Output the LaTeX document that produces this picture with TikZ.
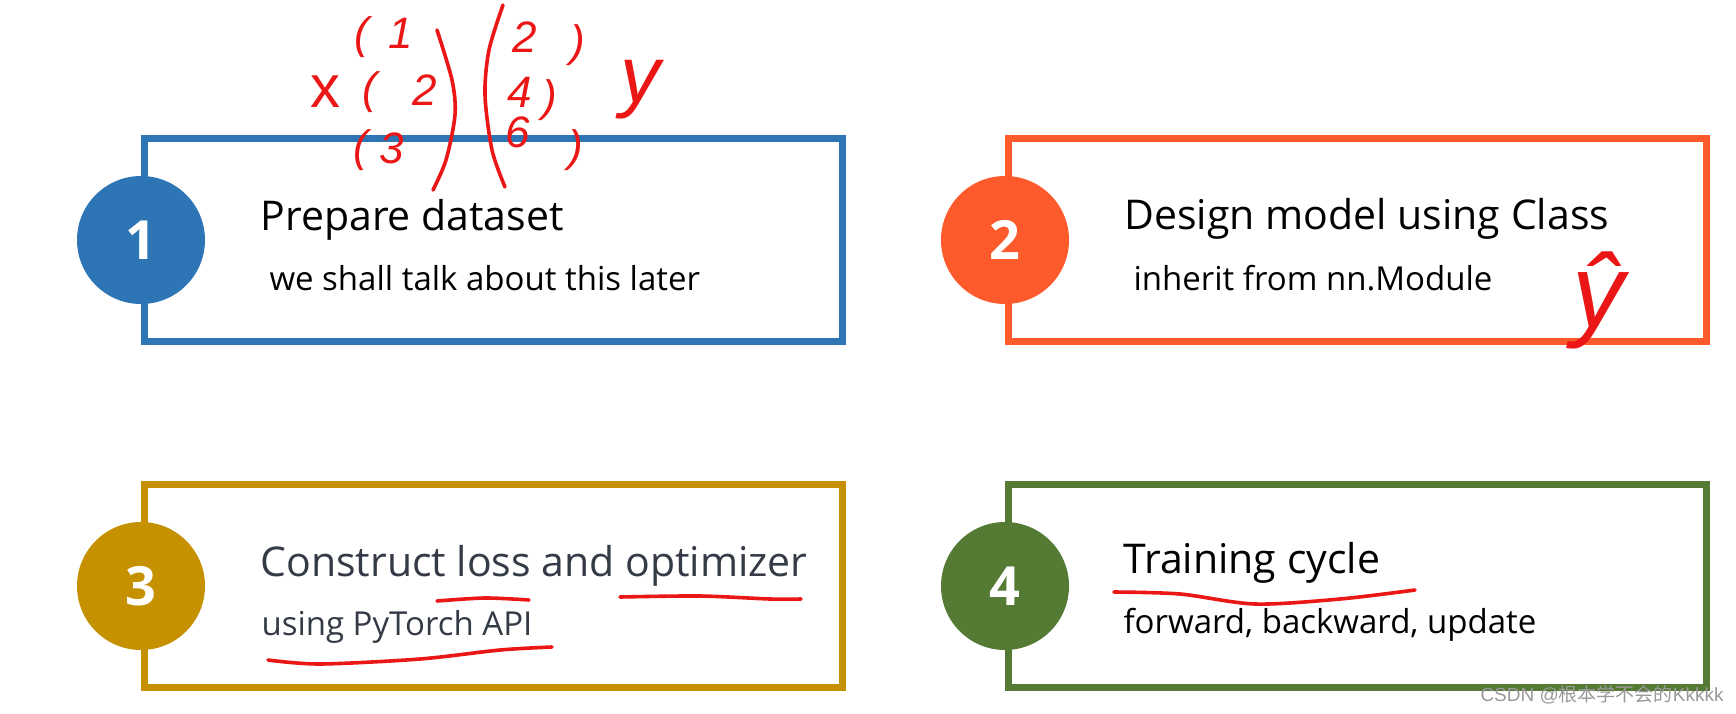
\documentclass[tikz,border=0pt]{standalone}
\usepackage{fontspec}
\setmainfont{Open Sans}
\newfontfamily\cjk{Noto Sans CJK SC}
\newfontfamily\marksans{Liberation Sans}
\usetikzlibrary{positioning}
\definecolor{sblue}{RGB}{46,117,182}
\definecolor{sorange}{RGB}{255,90,43}
\definecolor{sgold}{RGB}{197,145,0}
\definecolor{sgreen}{RGB}{84,122,51}
\definecolor{slate}{RGB}{52,58,70}
\definecolor{pen}{RGB}{235,22,22}

\begin{document}
\begin{tikzpicture}[x=0.5pt, y=-0.5pt, line width=3.5pt,
  stagebox/.style={rectangle, draw, minimum width=349pt, minimum height=101.5pt, inner sep=0pt},
  badge/.style={circle, minimum size=64pt, inner sep=0pt, text=white, font=\fontsize{27}{27}\selectfont\bfseries},
  head/.style={anchor=base west, inner sep=0pt, font=\fontsize{20.5}{23}\selectfont},
  sub/.style={anchor=base west, inner sep=0pt, font=\fontsize{16.5}{19}\selectfont},
  ink/.style={text=pen, inner sep=0pt, font=\marksans\itshape\fontsize{22}{22}\selectfont},
  scrawl/.style={draw=pen, line width=1.8pt, line cap=round, line join=round}]
\useasboundingbox (0,0) rectangle (1736,713);
\fill[white] (0,0) rectangle (1736,713);
% four stages
\node[stagebox, draw=sblue] (s1) at (493.5,240) {};
\node[stagebox, draw=sorange] (s2) at (1357.5,240) {};
\node[stagebox, draw=sgold] (s3) at (493.5,586) {};
\node[stagebox, draw=sgreen] (s4) at (1357.5,586) {};
\node[badge, fill=sblue] (n1) at (s1.west) {1};
\node[badge, fill=sorange] (n2) at (s2.west) {2};
\node[badge, fill=sgold] (n3) at (s3.west) {3};
\node[badge, fill=sgreen] (n4) at (s4.west) {4};
\node[head] (h1) at (257,230) {Prepare dataset};
\node[sub] (d1) at (266,290) {we shall talk about this later};
\node[head] (h2) at (1121,229) {Design model using Class};
\node[sub] (d2) at (1130,290) {inherit from nn.Module};
\node[head, text=slate] (h3) at (257,576) {Construct loss and optimizer};
\node[sub, text=slate] (d3) at (258,635) {using PyTorch API};
\node[head] (h4) at (1120,573) {Training cycle};
\node[sub] (d4) at (1120,633) {forward, backward, update};
% red notes
\node[ink, font=\marksans\fontsize{30}{30}\selectfont] (xs) at (325,92) {x};
\node[ink] (lp1) at (362,37) {(};
\node[ink] (x1) at (401,33) {1};
\node[ink] (lp2) at (370,92) {(};
\node[ink] (x2) at (425,90) {2};
\node[ink] (lp3) at (361,150) {(};
\node[ink] (x3) at (392,148) {3};
\node[ink] (y1) at (525,37) {2};
\node[ink] (rp1) at (578,45) {)};
\node[ink] (y2) at (520,92) {4};
\node[ink] (rp2) at (550,100) {)};
\node[ink] (y3) at (518,132) {6};
\node[ink] (rp3) at (576,150) {)};
\node[ink, font=\marksans\itshape\fontsize{40}{40}\selectfont] (ys) at (640,90) {y};
\node[ink, font=\marksans\itshape\fontsize{52}{52}\selectfont] (yhat) at (1598,300) {ŷ};
\draw[scrawl] plot[smooth] coordinates {(437,30) (452,80) (455,115) (446,160) (433,190)};
\draw[scrawl] plot[smooth] coordinates {(503,5) (489,50) (485,95) (492,150) (505,187)};
\draw[scrawl] plot[smooth] coordinates {(437,601) (485,598) (529,600)};
\draw[scrawl] plot[smooth] coordinates {(620,597) (700,596) (770,599) (801,599)};
\draw[scrawl] plot[smooth] coordinates {(268,660) (320,664) (420,659) (500,650) (552,647)};
\draw[scrawl] plot[smooth] coordinates {(1114,592) (1180,594) (1255,604) (1340,599) (1415,590)};
% watermark
\node[anchor=base west, inner sep=0pt, text=black!40, font=\marksans\fontsize{9.5}{10}\selectfont] (wm) at (1477,701) {CSDN @{\cjk 根本学不会的}Kkkkk};
\end{tikzpicture}
\end{document}
